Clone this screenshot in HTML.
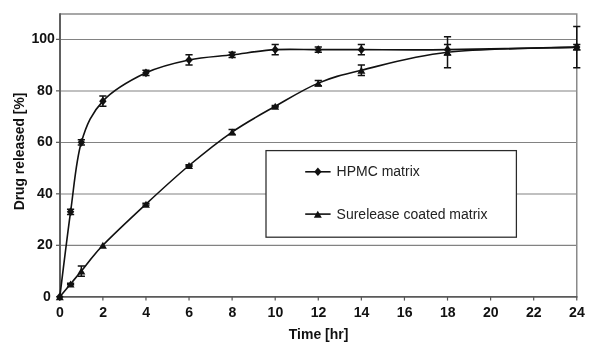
<!DOCTYPE html>
<html><head><meta charset="utf-8"><style>
html,body{margin:0;padding:0;background:#fff;width:600px;height:346px;overflow:hidden}
svg{display:block}
.t{font-family:"Liberation Sans",Arial,sans-serif;font-weight:bold;font-size:14.1px;fill:#111}
.a{font-family:"Liberation Sans",Arial,sans-serif;font-weight:bold;font-size:14.0px;fill:#111}
.l{font-family:"Liberation Sans",Arial,sans-serif;font-size:14.0px;fill:#222}
</style></head><body>
<svg width="600" height="346" viewBox="0 0 600 346">
<rect width="600" height="346" fill="#fff"/>
<line x1="60.00" y1="245.41" x2="576.76" y2="245.41" stroke="#828282" stroke-width="1.1"/>
<line x1="60.00" y1="193.93" x2="576.76" y2="193.93" stroke="#828282" stroke-width="1.1"/>
<line x1="60.00" y1="142.44" x2="576.76" y2="142.44" stroke="#828282" stroke-width="1.1"/>
<line x1="60.00" y1="90.96" x2="576.76" y2="90.96" stroke="#828282" stroke-width="1.1"/>
<line x1="60.00" y1="39.47" x2="576.76" y2="39.47" stroke="#828282" stroke-width="1.1"/>
<polyline points="60.00,13.90 576.76,13.90 576.76,296.80" fill="none" stroke="#8a8a8a" stroke-width="1.5"/>
<line x1="60.00" y1="13.15" x2="60.00" y2="296.80" stroke="#606060" stroke-width="2"/>
<line x1="59.00" y1="296.80" x2="577.46" y2="296.80" stroke="#5a5a5a" stroke-width="1.75"/>
<line x1="56.00" y1="296.80" x2="60.00" y2="296.80" stroke="#555" stroke-width="1.2"/>
<text transform="translate(50.80,300.60) scale(1,1.06)" text-anchor="end" class="t">0</text>
<line x1="56.00" y1="245.31" x2="60.00" y2="245.31" stroke="#555" stroke-width="1.2"/>
<text transform="translate(52.80,249.11) scale(1,1.06)" text-anchor="end" class="t">20</text>
<line x1="56.00" y1="193.83" x2="60.00" y2="193.83" stroke="#555" stroke-width="1.2"/>
<text transform="translate(52.80,197.63) scale(1,1.06)" text-anchor="end" class="t">40</text>
<line x1="56.00" y1="142.34" x2="60.00" y2="142.34" stroke="#555" stroke-width="1.2"/>
<text transform="translate(52.80,146.14) scale(1,1.06)" text-anchor="end" class="t">60</text>
<line x1="56.00" y1="90.86" x2="60.00" y2="90.86" stroke="#555" stroke-width="1.2"/>
<text transform="translate(52.80,94.66) scale(1,1.06)" text-anchor="end" class="t">80</text>
<line x1="56.00" y1="39.37" x2="60.00" y2="39.37" stroke="#555" stroke-width="1.2"/>
<text transform="translate(54.90,43.17) scale(1,1.06)" text-anchor="end" class="t">100</text>
<line x1="59.80" y1="296.80" x2="59.80" y2="300.60" stroke="#555" stroke-width="1.2"/>
<text transform="translate(60.00,317.00) scale(1,1.06)" text-anchor="middle" class="t">0</text>
<line x1="102.88" y1="296.80" x2="102.88" y2="300.60" stroke="#555" stroke-width="1.2"/>
<text transform="translate(103.08,317.00) scale(1,1.06)" text-anchor="middle" class="t">2</text>
<line x1="145.96" y1="296.80" x2="145.96" y2="300.60" stroke="#555" stroke-width="1.2"/>
<text transform="translate(146.16,317.00) scale(1,1.06)" text-anchor="middle" class="t">4</text>
<line x1="189.04" y1="296.80" x2="189.04" y2="300.60" stroke="#555" stroke-width="1.2"/>
<text transform="translate(189.24,317.00) scale(1,1.06)" text-anchor="middle" class="t">6</text>
<line x1="232.12" y1="296.80" x2="232.12" y2="300.60" stroke="#555" stroke-width="1.2"/>
<text transform="translate(232.32,317.00) scale(1,1.06)" text-anchor="middle" class="t">8</text>
<line x1="275.20" y1="296.80" x2="275.20" y2="300.60" stroke="#555" stroke-width="1.2"/>
<text transform="translate(275.40,317.00) scale(1,1.06)" text-anchor="middle" class="t">10</text>
<line x1="318.28" y1="296.80" x2="318.28" y2="300.60" stroke="#555" stroke-width="1.2"/>
<text transform="translate(318.48,317.00) scale(1,1.06)" text-anchor="middle" class="t">12</text>
<line x1="361.36" y1="296.80" x2="361.36" y2="300.60" stroke="#555" stroke-width="1.2"/>
<text transform="translate(361.56,317.00) scale(1,1.06)" text-anchor="middle" class="t">14</text>
<line x1="404.44" y1="296.80" x2="404.44" y2="300.60" stroke="#555" stroke-width="1.2"/>
<text transform="translate(404.64,317.00) scale(1,1.06)" text-anchor="middle" class="t">16</text>
<line x1="447.52" y1="296.80" x2="447.52" y2="300.60" stroke="#555" stroke-width="1.2"/>
<text transform="translate(447.72,317.00) scale(1,1.06)" text-anchor="middle" class="t">18</text>
<line x1="490.60" y1="296.80" x2="490.60" y2="300.60" stroke="#555" stroke-width="1.2"/>
<text transform="translate(490.80,317.00) scale(1,1.06)" text-anchor="middle" class="t">20</text>
<line x1="533.68" y1="296.80" x2="533.68" y2="300.60" stroke="#555" stroke-width="1.2"/>
<text transform="translate(533.88,317.00) scale(1,1.06)" text-anchor="middle" class="t">22</text>
<line x1="576.76" y1="296.80" x2="576.76" y2="300.60" stroke="#555" stroke-width="1.2"/>
<text transform="translate(576.96,317.00) scale(1,1.06)" text-anchor="middle" class="t">24</text>
<text transform="translate(318.60,339.30) scale(1,1.03)" text-anchor="middle" class="a">Time [hr]</text>
<text transform="translate(24.3,151.45) rotate(-90)" text-anchor="middle" class="a" style="font-size:13.85px">Drug released [%]</text>
<path d="M59.80,296.80 C61.59,282.64 66.98,237.59 70.57,211.85 C74.16,186.11 75.95,160.79 81.34,142.34 C86.73,123.89 92.11,112.74 102.88,101.15 C113.65,89.57 131.60,79.70 145.96,72.84 C160.32,65.97 174.68,62.97 189.04,59.96 C203.40,56.96 217.76,56.53 232.12,54.82 C246.48,53.10 260.84,50.53 275.20,49.67 C289.56,48.81 303.92,49.67 318.28,49.67 C332.64,49.67 339.82,49.67 361.36,49.67 C382.90,49.67 411.62,50.10 447.52,49.67 C483.42,49.24 555.22,47.52 576.76,47.09" fill="none" stroke="#111" stroke-width="1.6"/>
<path d="M59.80,296.80 C61.59,294.65 66.98,288.22 70.57,283.93 C74.16,279.64 75.95,277.49 81.34,271.06 C86.73,264.62 92.11,256.47 102.88,245.31 C113.65,234.16 131.60,217.43 145.96,204.13 C160.32,190.82 174.68,177.52 189.04,165.51 C203.40,153.50 217.76,141.91 232.12,132.04 C246.48,122.18 260.84,114.45 275.20,106.30 C289.56,98.15 303.92,89.14 318.28,83.13 C332.64,77.13 339.82,75.41 361.36,70.26 C382.90,65.11 411.62,56.10 447.52,52.24 C483.42,48.38 555.22,47.95 576.76,47.09" fill="none" stroke="#111" stroke-width="1.6"/>

<path d="M70.57,209.27V214.42M66.97,209.27H74.17M66.97,214.42H74.17" stroke="#111" stroke-width="1.5" fill="none"/>
<path d="M81.34,139.77V144.92M77.74,139.77H84.94M77.74,144.92H84.94" stroke="#111" stroke-width="1.5" fill="none"/>
<path d="M102.88,96.00V106.30M99.28,96.00H106.48M99.28,106.30H106.48" stroke="#111" stroke-width="1.5" fill="none"/>
<path d="M145.96,70.26V75.41M142.36,70.26H149.56M142.36,75.41H149.56" stroke="#111" stroke-width="1.5" fill="none"/>
<path d="M189.04,54.82V65.11M185.44,54.82H192.64M185.44,65.11H192.64" stroke="#111" stroke-width="1.5" fill="none"/>
<path d="M232.12,52.24V57.39M228.52,52.24H235.72M228.52,57.39H235.72" stroke="#111" stroke-width="1.5" fill="none"/>
<path d="M275.20,44.52V54.82M271.60,44.52H278.80M271.60,54.82H278.80" stroke="#111" stroke-width="1.5" fill="none"/>
<path d="M318.28,47.09V52.24M314.68,47.09H321.88M314.68,52.24H321.88" stroke="#111" stroke-width="1.5" fill="none"/>
<path d="M361.36,44.52V54.82M357.76,44.52H364.96M357.76,54.82H364.96" stroke="#111" stroke-width="1.5" fill="none"/>
<path d="M447.52,44.52V54.82M443.92,44.52H451.12M443.92,54.82H451.12" stroke="#111" stroke-width="1.5" fill="none"/>
<path d="M576.76,44.52V49.67M573.16,44.52H580.36M573.16,49.67H580.36" stroke="#111" stroke-width="1.5" fill="none"/>

<path d="M70.57,283.16V284.70M66.97,283.16H74.17M66.97,284.70H74.17" stroke="#111" stroke-width="1.5" fill="none"/>
<path d="M81.34,265.91V276.21M77.74,265.91H84.94M77.74,276.21H84.94" stroke="#111" stroke-width="1.5" fill="none"/>

<path d="M145.96,203.35V204.90M142.36,203.35H149.56M142.36,204.90H149.56" stroke="#111" stroke-width="1.5" fill="none"/>
<path d="M189.04,164.74V166.28M185.44,164.74H192.64M185.44,166.28H192.64" stroke="#111" stroke-width="1.5" fill="none"/>
<path d="M232.12,129.47V134.62M228.52,129.47H235.72M228.52,134.62H235.72" stroke="#111" stroke-width="1.5" fill="none"/>
<path d="M275.20,105.53V107.07M271.60,105.53H278.80M271.60,107.07H278.80" stroke="#111" stroke-width="1.5" fill="none"/>
<path d="M318.28,80.56V85.71M314.68,80.56H321.88M314.68,85.71H321.88" stroke="#111" stroke-width="1.5" fill="none"/>
<path d="M361.36,65.11V75.41M357.76,65.11H364.96M357.76,75.41H364.96" stroke="#111" stroke-width="1.5" fill="none"/>
<path d="M447.52,36.80V67.69M443.92,36.80H451.12M443.92,67.69H451.12" stroke="#111" stroke-width="1.5" fill="none"/>
<path d="M576.76,26.50V67.69M573.16,26.50H580.36M573.16,67.69H580.36" stroke="#111" stroke-width="1.5" fill="none"/>
<path d="M59.80,292.50L63.50,296.80L59.80,301.10L56.10,296.80Z" fill="#111"/>
<path d="M70.57,207.55L74.27,211.85L70.57,216.15L66.87,211.85Z" fill="#111"/>
<path d="M81.34,138.04L85.04,142.34L81.34,146.64L77.64,142.34Z" fill="#111"/>
<path d="M102.88,96.85L106.58,101.15L102.88,105.45L99.18,101.15Z" fill="#111"/>
<path d="M145.96,68.54L149.66,72.84L145.96,77.14L142.26,72.84Z" fill="#111"/>
<path d="M189.04,55.66L192.74,59.96L189.04,64.26L185.34,59.96Z" fill="#111"/>
<path d="M232.12,50.52L235.82,54.82L232.12,59.12L228.42,54.82Z" fill="#111"/>
<path d="M275.20,45.37L278.90,49.67L275.20,53.97L271.50,49.67Z" fill="#111"/>
<path d="M318.28,45.37L321.98,49.67L318.28,53.97L314.58,49.67Z" fill="#111"/>
<path d="M361.36,45.37L365.06,49.67L361.36,53.97L357.66,49.67Z" fill="#111"/>
<path d="M447.52,45.37L451.22,49.67L447.52,53.97L443.82,49.67Z" fill="#111"/>
<path d="M576.76,42.79L580.46,47.09L576.76,51.39L573.06,47.09Z" fill="#111"/>
<path d="M59.80,293.30L63.80,300.30L55.80,300.30Z" fill="#111"/>
<path d="M70.57,280.43L74.57,287.43L66.57,287.43Z" fill="#111"/>
<path d="M81.34,267.56L85.34,274.56L77.34,274.56Z" fill="#111"/>
<path d="M102.88,241.81L106.88,248.81L98.88,248.81Z" fill="#111"/>
<path d="M145.96,200.63L149.96,207.63L141.96,207.63Z" fill="#111"/>
<path d="M189.04,162.01L193.04,169.01L185.04,169.01Z" fill="#111"/>
<path d="M232.12,128.54L236.12,135.54L228.12,135.54Z" fill="#111"/>
<path d="M275.20,102.80L279.20,109.80L271.20,109.80Z" fill="#111"/>
<path d="M318.28,79.63L322.28,86.63L314.28,86.63Z" fill="#111"/>
<path d="M361.36,66.76L365.36,73.76L357.36,73.76Z" fill="#111"/>
<path d="M447.52,48.74L451.52,55.74L443.52,55.74Z" fill="#111"/>
<path d="M576.76,43.59L580.76,50.59L572.76,50.59Z" fill="#111"/>
<rect x="266" y="150.6" width="250.4" height="86.6" fill="#fff" stroke="#2a2a2a" stroke-width="1.25"/>
<line x1="305.2" y1="171.8" x2="330.6" y2="171.8" stroke="#111" stroke-width="1.6"/>
<path d="M317.90,167.50L321.60,171.80L317.90,176.10L314.20,171.80Z" fill="#111"/>
<line x1="305.2" y1="214.1" x2="330.6" y2="214.1" stroke="#111" stroke-width="1.6"/>
<path d="M317.80,210.70L321.80,217.70L313.80,217.70Z" fill="#111"/>
<text transform="translate(336.60,176.20) scale(1,1.05)" class="l">HPMC matrix</text>
<text transform="translate(336.60,218.70) scale(1,1.05)" class="l">Surelease coated matrix</text>
</svg>
</body></html>
